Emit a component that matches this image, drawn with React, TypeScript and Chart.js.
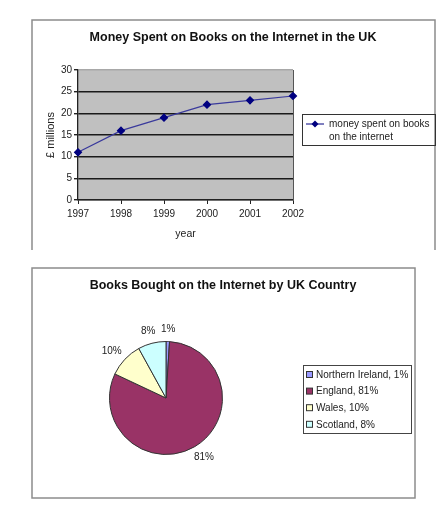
import { useEffect, useRef } from 'react';
import { Chart, registerables } from 'chart.js';

Chart.register(...registerables);

const years = ['1997', '1998', '1999', '2000', '2001', '2002'];
const moneySpent = [11, 16, 19, 22, 23, 24];
const yTicks = [0, 5, 10, 15, 20, 25, 30];
const lineLegend = ['money spent on books', 'on the internet'];
const lineTitle = 'Money Spent on Books on the Internet in the UK';

const countries = ['Northern Ireland', 'England', 'Wales', 'Scotland'];
const shares = [1, 81, 10, 8];
const sliceColors = ['#9999ff', '#993366', '#ffffcc', '#ccffff'];
const pieTitle = 'Books Bought on the Internet by UK Country';

const FONT = 'Arial, "Liberation Sans", sans-serif';
const TEXT = '#222222';

const LineChart = () => {
  const chartRef = useRef<HTMLCanvasElement>(null);

  useEffect(() => {
    if (!chartRef.current) return;

    const decor = {
      id: 'decor',
      beforeDraw(chart: any) {
        const { ctx, chartArea: a } = chart;
        ctx.save();
        ctx.fillStyle = '#c0c0c0';
        ctx.fillRect(a.left, a.top, a.right - a.left, a.bottom - a.top);
        ctx.strokeStyle = '#8c8c8c';
        ctx.lineWidth = 1.5;
        ctx.beginPath();
        ctx.moveTo(32, 250);
        ctx.lineTo(32, 20);
        ctx.lineTo(435, 20);
        ctx.lineTo(435, 250);
        ctx.stroke();
        ctx.fillStyle = '#111';
        ctx.font = `bold 12.5px ${FONT}`;
        ctx.textAlign = 'center';
        ctx.textBaseline = 'middle';
        ctx.fillText(lineTitle, 233, 38);
        ctx.restore();
      },
      beforeDatasetsDraw(chart: any) {
        const { ctx, chartArea: a } = chart;
        ctx.save();
        ctx.strokeStyle = '#555';
        ctx.lineWidth = 1;
        ctx.beginPath();
        ctx.moveTo(a.right + 0.5, a.top);
        ctx.lineTo(a.right + 0.5, a.bottom);
        ctx.stroke();
        ctx.restore();
      },
      afterDraw(chart: any) {
        const { ctx } = chart;
        ctx.save();
        ctx.strokeStyle = '#333';
        ctx.lineWidth = 1;
        ctx.strokeRect(302.5, 114.5, 133, 31);
        ctx.strokeStyle = '#000080';
        ctx.beginPath();
        ctx.moveTo(306, 124);
        ctx.lineTo(324, 124);
        ctx.stroke();
        ctx.fillStyle = '#000080';
        ctx.beginPath();
        ctx.moveTo(315, 120.5);
        ctx.lineTo(318.5, 124);
        ctx.lineTo(315, 127.5);
        ctx.lineTo(311.5, 124);
        ctx.closePath();
        ctx.fill();
        ctx.fillStyle = TEXT;
        ctx.font = `10px ${FONT}`;
        ctx.textAlign = 'left';
        ctx.textBaseline = 'middle';
        lineLegend.forEach((t, i) => ctx.fillText(t, 329, 124 + i * 13));
        ctx.restore();
      },
    };

    const chart = new Chart(chartRef.current, {
      type: 'line',
      data: {
        labels: years,
        datasets: [
          {
            label: lineLegend.join(' '),
            data: moneySpent,
            borderColor: '#3a3a9c',
            borderWidth: 1.2,
            pointStyle: 'rectRot',
            pointRadius: 3.5,
            pointBackgroundColor: '#000080',
            pointBorderColor: '#000080',
            tension: 0,
          },
        ],
      },
      options: {
        animation: false,
        responsive: false,
        layout: { padding: { left: 30, right: 153, top: 70, bottom: 0 } },
        plugins: {
          legend: { display: false },
          title: { display: false },
          tooltip: { enabled: false },
        },
        scales: {
          x: {
            offset: false,
            grid: { drawOnChartArea: false, drawTicks: true, tickLength: 4, color: TEXT },
            border: { color: TEXT, width: 1.3 },
            ticks: { color: TEXT, font: { family: FONT, size: 10 }, padding: 4, maxRotation: 0, autoSkip: false },
            title: {
              display: true,
              text: 'year',
              color: TEXT,
              font: { family: FONT, size: 10.5 },
              padding: { top: 4, bottom: 10 },
            },
            afterFit: (s: any) => {
              s.height = 50;
            },
          },
          y: {
            min: yTicks[0],
            max: yTicks[yTicks.length - 1],
            afterBuildTicks: (s: any) => {
              s.ticks = yTicks.map((v) => ({ value: v }));
            },
            grid: {
              color: (c: any) => (c.tick && c.tick.value === 30 ? '#a8a8a8' : '#1a1a1a'),
              tickColor: TEXT,
              tickLength: 4,
              lineWidth: 1.4,
            },
            border: { color: TEXT, width: 1.3 },
            ticks: { color: TEXT, font: { family: FONT, size: 10 }, padding: 2 },
            title: {
              display: true,
              text: '£ millions',
              color: TEXT,
              font: { family: FONT, size: 11 },
              padding: { top: 14, bottom: 4 },
            },
            afterFit: (s: any) => {
              s.width = 48;
            },
          },
        },
      },
      plugins: [decor],
    });

    return () => {
      chart.destroy();
    };
  }, []);

  return (
    <canvas
      ref={chartRef}
      width={446}
      height={250}
      style={{ position: 'absolute', left: 0, top: 0, width: 446, height: 250 }}
    />
  );
};

const PieChart = () => {
  const chartRef = useRef<HTMLCanvasElement>(null);

  useEffect(() => {
    if (!chartRef.current) return;

    const decor = {
      id: 'pieDecor',
      beforeDraw(chart: any) {
        const { ctx } = chart;
        ctx.save();
        ctx.strokeStyle = '#8c8c8c';
        ctx.lineWidth = 1.5;
        ctx.strokeRect(32, 18, 383, 230);
        ctx.fillStyle = '#111';
        ctx.font = `bold 12.5px ${FONT}`;
        ctx.textAlign = 'center';
        ctx.textBaseline = 'middle';
        ctx.fillText(pieTitle, 223, 36);
        ctx.restore();
      },
      afterDraw(chart: any) {
        const { ctx } = chart;
        ctx.save();
        ctx.font = `10px ${FONT}`;
        ctx.fillStyle = TEXT;
        ctx.textBaseline = 'middle';
        ctx.textAlign = 'center';
        chart.getDatasetMeta(0).data.forEach((arc: any, i: number) => {
          const mid = (arc.startAngle + arc.endAngle) / 2;
          const dx = Math.cos(mid);
          const dy = Math.sin(mid);
          const label = `${shares[i]}%`;
          const w = ctx.measureText(label).width;
          const x = arc.x + dx * (arc.outerRadius + 8) + (dx * w) / 2;
          const y = arc.y + dy * (arc.outerRadius + 8) + dy * 4.5;
          ctx.fillText(label, x, y);
        });

        ctx.strokeStyle = '#444';
        ctx.lineWidth = 1;
        ctx.strokeRect(303.5, 115.5, 108, 68);
        ctx.textAlign = 'left';
        countries.forEach((c, i) => {
          const y = 125 + i * 16.6;
          ctx.fillStyle = sliceColors[i];
          ctx.fillRect(306.5, y - 3.5, 6, 6);
          ctx.strokeStyle = '#333';
          ctx.strokeRect(306.5, y - 3.5, 6, 6);
          ctx.fillStyle = TEXT;
          ctx.fillText(`${c}, ${shares[i]}%`, 316, y);
        });
        ctx.restore();
      },
    };

    const chart = new Chart(chartRef.current, {
      type: 'pie',
      data: {
        labels: countries,
        datasets: [
          {
            data: shares,
            backgroundColor: sliceColors,
            borderColor: '#333',
            borderWidth: 1,
          },
        ],
      },
      options: {
        animation: false,
        responsive: false,
        layout: { padding: { left: 109, right: 223, top: 91, bottom: 57 } },
        plugins: {
          legend: { display: false },
          tooltip: { enabled: false },
        },
      },
      plugins: [decor],
    });

    return () => {
      chart.destroy();
    };
  }, []);

  return (
    <canvas
      ref={chartRef}
      width={446}
      height={262}
      style={{ position: 'absolute', left: 0, top: 250, width: 446, height: 262 }}
    />
  );
};

export default function App() {
  return (
    <div style={{ position: 'absolute', left: 0, top: 0, width: 446, height: 512, background: '#fff' }}>
      <LineChart />
      <PieChart />
    </div>
  );
}
